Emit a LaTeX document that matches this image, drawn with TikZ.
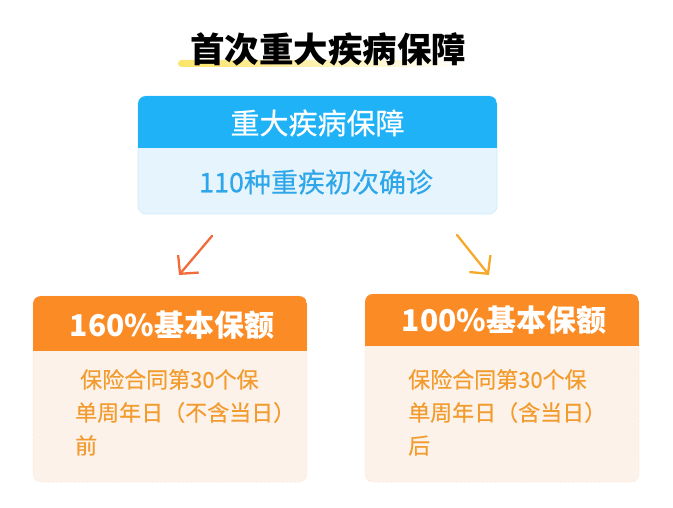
\documentclass[tikz,border=0pt]{standalone}
\usepackage{fontspec}
\setmainfont{Noto Sans CJK SC}
\newfontfamily\medio[FakeBold=0.5]{Noto Sans CJK SC}
\newfontfamily\semimedio[FakeBold=0.3]{Noto Sans CJK SC}
\usetikzlibrary{arrows.meta,positioning}
\definecolor{AzulCabeza}{HTML}{1FB2F7}
\definecolor{AzulClaro}{HTML}{E6F5FD}
\definecolor{AzulTexto}{HTML}{2EA6EA}
\definecolor{AzulBorde}{HTML}{CDEBFB}
\definecolor{NaranjaCabeza}{HTML}{FB8B24}
\definecolor{NaranjaClaro}{HTML}{FDF2EA}
\definecolor{NaranjaTexto}{HTML}{F29B2E}
\definecolor{NaranjaBorde}{HTML}{F6D9C4}
\definecolor{FlechaRoja}{HTML}{F26B3A}
\definecolor{FlechaAmarilla}{HTML}{F5A829}
\definecolor{Subrayado}{HTML}{FCE46A}

\begin{document}
\begin{tikzpicture}[
  x=1pt,y=-1pt,
  caja/.style={rounded corners=8pt,inner sep=0pt,outer sep=0pt,line width=0.6pt},
  cabeza/.style={text=white,inner sep=0pt},
  cuerpo/.style={text=NaranjaTexto,inner sep=0pt,align=left,anchor=north west,
    font=\fontsize{22}{33}\selectfont\semimedio},
  flecha/.style={-{Straight Barb[length=13pt,width=27pt]},line width=2.3pt,line cap=round}
]
  \useasboundingbox (0,0) rectangle (673,508);

  % titulo
  \shade[left color=Subrayado,right color=white,rounded corners=3.5pt] (178,60) rectangle (468,67);
  \node[inner sep=0pt,font=\fontsize{34.5}{40}\selectfont\bfseries] (titulo) at (328,49) {首次重大疾病保障};

  % caja superior
  \node[caja,draw=AzulBorde,fill=AzulClaro,minimum width=359pt,minimum height=118pt] (mayor) at (317.5,155) {};
  \begin{scope}
    \clip[rounded corners=8pt] (mayor.north west) rectangle (mayor.south east);
    \fill[AzulCabeza] (mayor.north west) rectangle ([yshift=-52pt]mayor.north east);
  \end{scope}
  \node[cabeza,font=\fontsize{29}{34}\selectfont\medio] (mayorcab) at (317.5,123) {重大疾病保障};
  \node[text=AzulTexto,inner sep=0pt,font=\fontsize{27}{32}\selectfont\semimedio] (mayortxt) at (316,182) {110种重疾初次确诊};

  % caja izquierda
  \node[caja,draw=NaranjaBorde,dotted,fill=NaranjaClaro,minimum width=274pt,minimum height=186pt] (antes) at (170,389) {};
  \begin{scope}
    \clip[rounded corners=8pt] (antes.north west) rectangle (antes.south east);
    \fill[NaranjaCabeza] (antes.north west) rectangle ([yshift=-55pt]antes.north east);
  \end{scope}
  \node[cabeza,font=\fontsize{30}{36}\selectfont\bfseries] (antescab) at (172,325) {160\%基本保额};
  \node[cuerpo] (antestxt) at (75,369) {\hspace*{5pt}保险合同第30个保\\单周年日（不含当日）\\前};

  % caja derecha
  \node[caja,draw=NaranjaBorde,dotted,fill=NaranjaClaro,minimum width=274pt,minimum height=188pt] (despues) at (502,388) {};
  \begin{scope}
    \clip[rounded corners=8pt] (despues.north west) rectangle (despues.south east);
    \fill[NaranjaCabeza] (despues.north west) rectangle ([yshift=-52pt]despues.north east);
  \end{scope}
  \node[cabeza,font=\fontsize{30}{36}\selectfont\bfseries] (despuescab) at (504,320) {100\%基本保额};
  \node[cuerpo] (despuestxt) at (408,369) {保险合同第30个保\\单周年日（含当日）\\后};

  % flechas
  \coordinate (izqini) at (212,236);
  \coordinate (izqfin) at (179,275);
  \coordinate (derini) at (457,235);
  \coordinate (derfin) at (489,275);
  \draw[flecha,FlechaRoja] (izqini) -- (izqfin);
  \draw[flecha,FlechaAmarilla] (derini) -- (derfin);
\end{tikzpicture}
\end{document}
